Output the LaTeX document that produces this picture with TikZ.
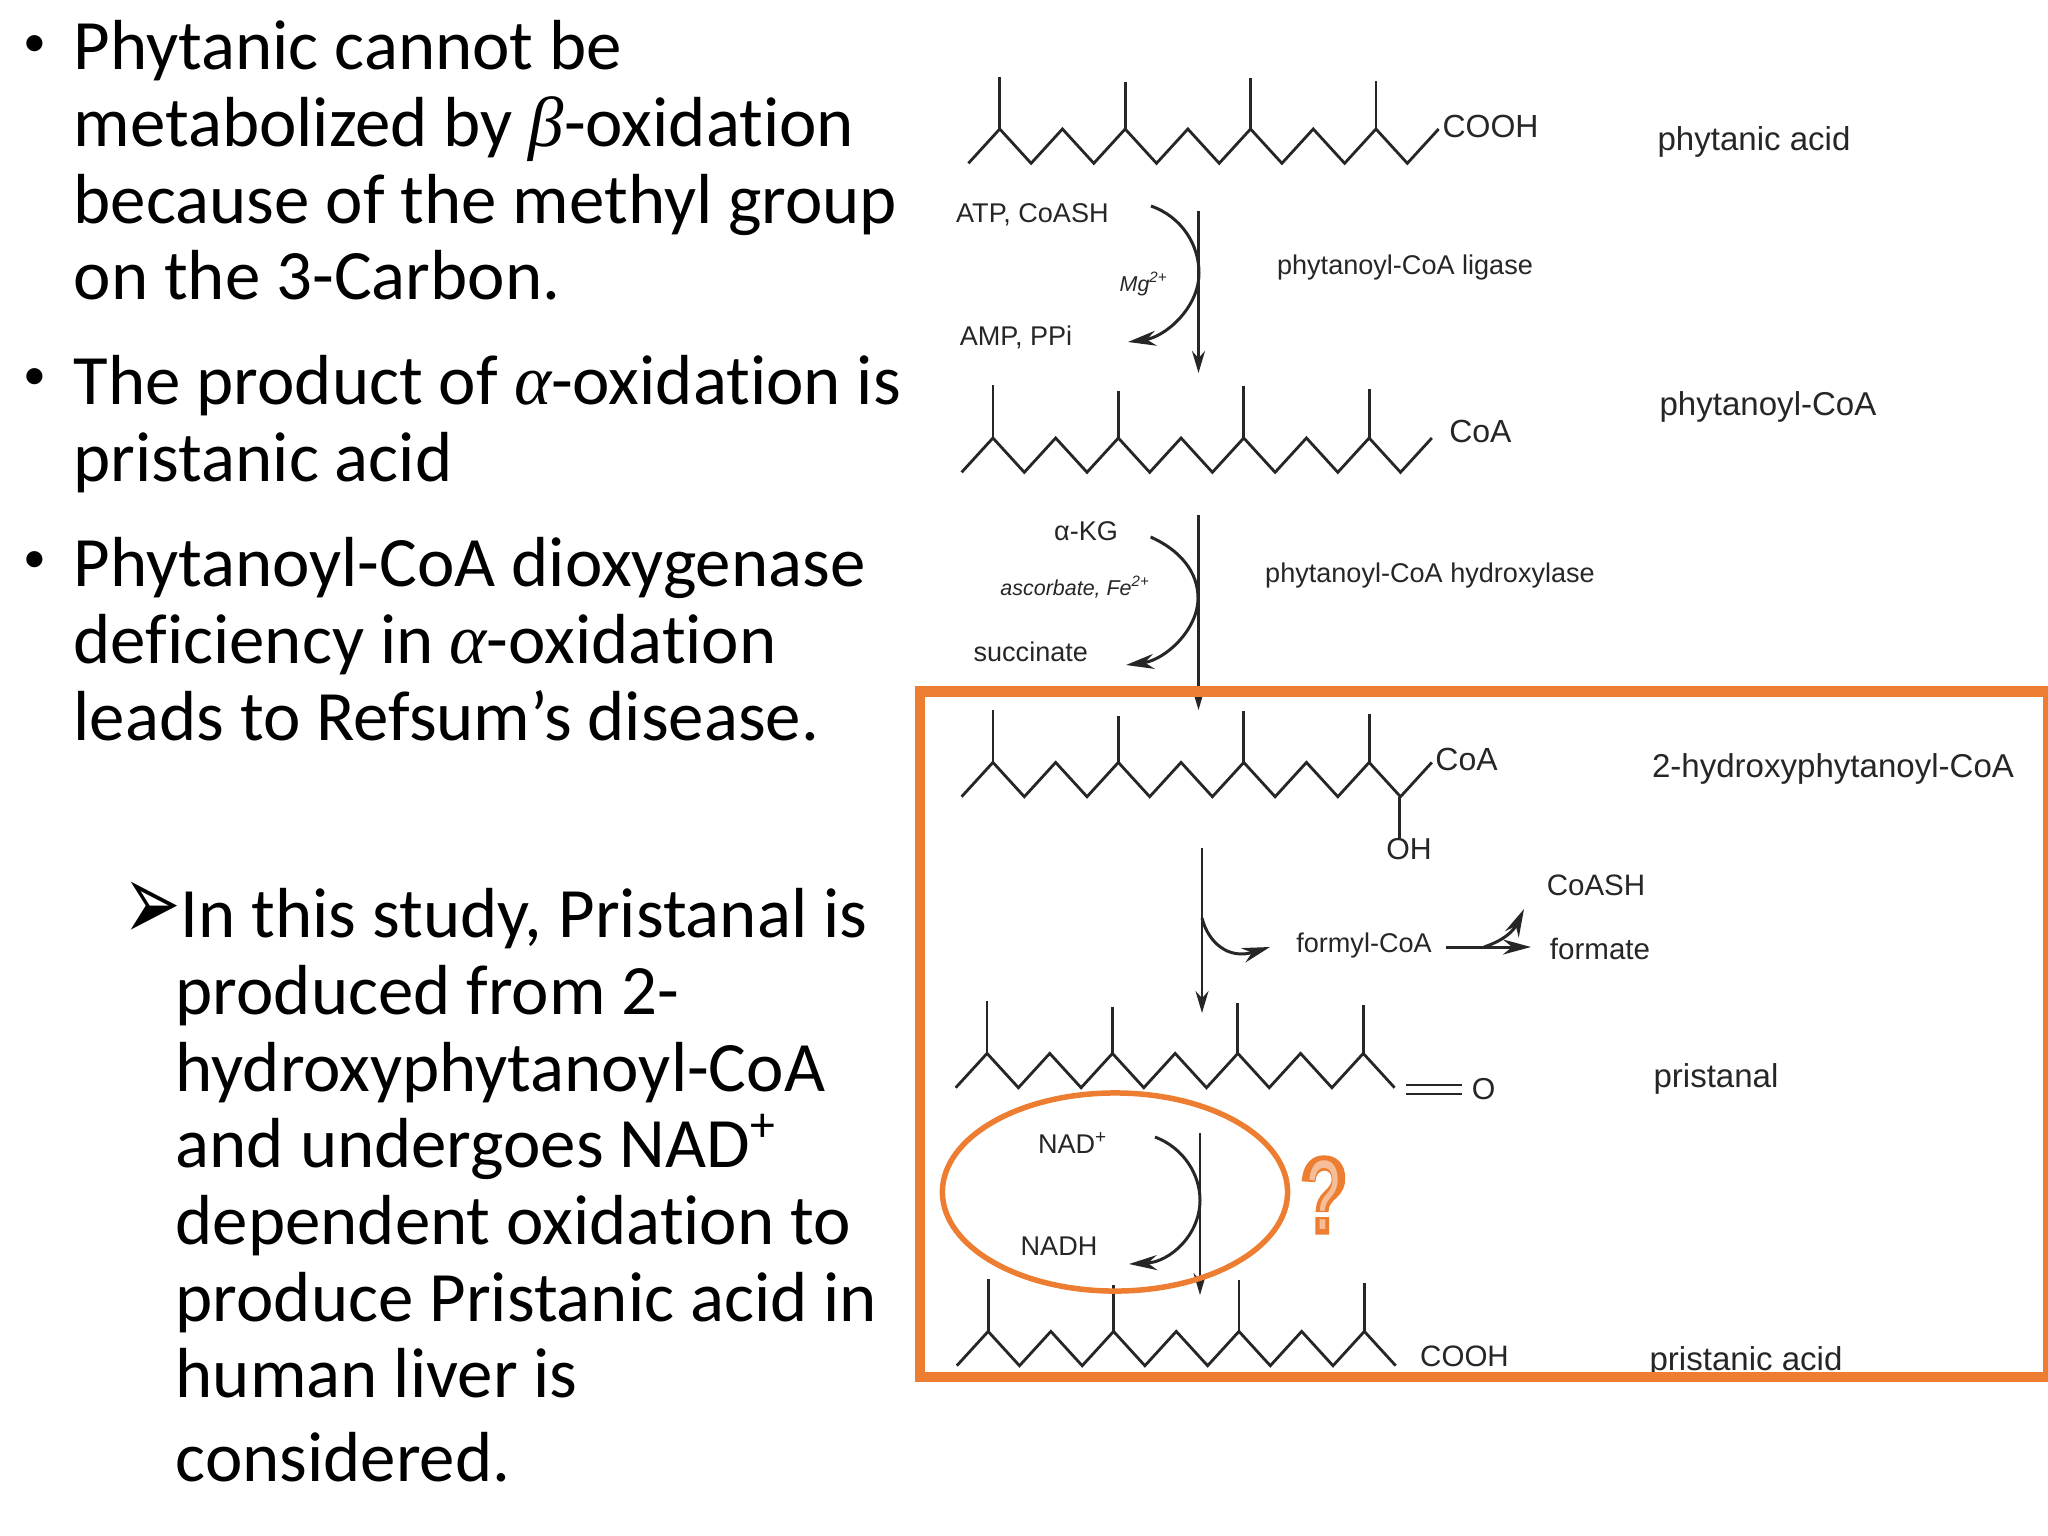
\documentclass[tikz,border=0pt]{standalone}
\usepackage{fontspec}
\setmainfont[Ligatures=NoCommon]{Carlito}
\setsansfont{Liberation Sans}
\newfontfamily\symbfont{DejaVu Sans}
\newfontfamily\greekfont{Liberation Serif}
\newfontfamily\quesfont[FakeBold=3]{Liberation Sans}
\newfontfamily\queslight{Liberation Sans}
\usetikzlibrary{arrows.meta,shapes.geometric}

% one zigzag chain with its four methyl branches
\newcommand{\chainbonds}[7]{%
  \draw[bond] (#1,#2) \foreach \k in {1,...,#3}{ -- ({#1+\k*31.35},{#2-34.3*mod(\k,2)}) };
  \foreach \m/\t in {1/#4,5/#5,9/#6,13/#7}{
    \draw[bond] ({#1+\m*31.35},{#2-34.3}) -- ({#1+\m*31.35},\t);
  }
}
\newcommand{\grk}[1]{{\greekfont\itshape #1}}

\begin{document}
\begin{tikzpicture}[
    x=0.01cm, y=-0.01cm,
    bond/.style={line width=0.8pt, line join=miter, color=black!85},
    rxnmain/.style={line width=0.65pt, color=black!85, -{Stealth[length=0.22cm,width=0.13cm]}},
    rxnside/.style={line width=0.85pt, color=black!85, -{Stealth[length=0.28cm,width=0.15cm]}},
    chem/.style={inner sep=0pt, font=\sffamily\fontsize{7.7}{9}\selectfont, color=black!85},
    chemname/.style={inner sep=0pt, font=\sffamily\fontsize{9.4}{11}\selectfont, color=black!85},
    atomtag/.style={inner sep=0pt, font=\sffamily\fontsize{9.1}{11}\selectfont, color=black!85},
    cofactor/.style={inner sep=0pt, font=\sffamily\itshape\fontsize{6.1}{8}\selectfont, color=black!85},
    bodytext/.style={anchor=north west, inner sep=0pt, align=left, font=\fontsize{20.15}{21.8}\selectfont},
    bulletmark/.style={inner sep=0pt, font=\fontsize{13}{14}\selectfont},
    highlight/.style={draw=hiorange, line width=0.105cm},
    ]
    \definecolor{hiorange}{HTML}{ED7D31}
    \definecolor{hilight}{HTML}{F6BE98}

    \useasboundingbox (0,0) rectangle (2048,1536);

    % left column
    \node[bulletmark] (bulleta) at (35,46) {•};
    \node[bodytext] (texta) at (73,20) {Phytanic cannot be\\metabolized by \grk{β}-oxidation\\because of the methyl group\\on the 3-Carbon.};
    \node[bulletmark] (bulletb) at (35,379) {•};
    \node[bodytext] (textb) at (73,355) {The product of \grk{α}-oxidation is\\pristanic acid};
    \node[bulletmark] (bulletc) at (35,562) {•};
    \node[bodytext] (textc) at (73,537) {Phytanoyl-CoA dioxygenase\\deficiency in \grk{α}-oxidation\\leads to Refsum’s disease.};
    \node[bulletmark, font=\symbfont\fontsize{19.5}{20}\selectfont, yscale=1.6, transform shape] (bulletd) at (152,911) {➢};
    \node[bodytext] (textd) at (175,888) {\hspace{0.05cm}In this study, Pristanal is\\produced from 2-\\hydroxyphytanoyl-CoA\\and undergoes NAD\textsuperscript{+}\\dependent oxidation to\\produce Pristanic acid in\\human liver is\\[0.07cm]considered.};

    % chains
    \chainbonds{968.4}{163.3}{15}{77}{82}{78}{81}
    \chainbonds{961.6}{472.3}{15}{385}{391}{386}{389}
    \chainbonds{961.6}{796.7}{15}{710}{716}{711}{714}
    \chainbonds{955.7}{1087.7}{14}{1001}{1007}{1003}{1005}
    \chainbonds{956.8}{1365.7}{14}{1279}{1285}{1280}{1283}

    \coordinate (ohtop) at (1399.8,796.7);
    \node[atomtag, font=\sffamily\fontsize{8.6}{10}\selectfont] (ohgroup) at (1409,849) {OH};
    \draw[bond] (ohtop) -- (ohgroup.north -| ohtop);
    \node[atomtag] (cooha) at (1490.5,126) {COOH};
    \node[atomtag] (coab) at (1480.4,431.7) {CoA};
    \node[atomtag] (coac) at (1466.6,759) {CoA};
    \node[atomtag, font=\sffamily\fontsize{8.6}{10}\selectfont] (oxygen) at (1483.5,1089) {O};
    \node[atomtag, font=\sffamily\fontsize{8.4}{10}\selectfont] (coohb) at (1464.5,1356) {COOH};
    \coordinate (dbla) at (1406,1085);
    \coordinate (dblb) at (1462,1085);
    \coordinate (dblc) at (1406,1094);
    \coordinate (dbld) at (1462,1094);
    \draw[bond] (dbla) -- (dblb);
    \draw[bond] (dblc) -- (dbld);

    % compound and enzyme names
    \node[chemname] (phyacid) at (1754,142) {phytanic acid};
    \node[chemname] (phycoa) at (1768,407) {phytanoyl-CoA};
    \node[chemname] (hydcoa) at (1833,769) {2-hydroxyphytanoyl-CoA};
    \node[chemname] (prisal) at (1716,1079) {pristanal};
    \node[chemname] (prisacid) at (1746,1362) {pristanic acid};
    \node[chem] (ligase) at (1405,267) {phytanoyl-CoA ligase};
    \node[chem] (hydroxylase) at (1430,575) {phytanoyl-CoA hydroxylase};

    % cofactors
    \node[chem] (atp) at (1032.4,215) {ATP, CoASH};
    \node[chem] (amp) at (1016,337) {AMP, PPi};
    \node[cofactor] (mg) at (1144,284) {Mg\textsuperscript{2+}};
    \node[chem] (akg) at (1086,531) {α-KG};
    \node[cofactor] (asc) at (1075.5,587) {ascorbate, Fe\textsuperscript{2+}};
    \node[chem] (succ) at (1030.8,652) {succinate};
    \node[chem] (formyl) at (1364,945) {formyl-CoA};
    \node[chem, font=\sffamily\fontsize{8.4}{10}\selectfont] (coash) at (1596,885) {CoASH};
    \node[chem, font=\sffamily\fontsize{8.4}{10}\selectfont] (formate) at (1600,949) {formate};
    \node[chem] (nad) at (1073,1143) {NAD\textsuperscript{+}};
    \node[chem] (nadh) at (1059,1246) {NADH};

    % reaction arrows
    \coordinate (rxna) at (1198.5,211);
    \coordinate (rxnb) at (1198.5,373);
    \draw[rxnmain] (rxna) -- (rxnb);
    \coordinate (sidea) at (1151,206);
    \coordinate (sideb) at (1199,273);
    \coordinate (sidec) at (1128,342);
    \draw[rxnside] (sidea) .. controls (1182,217) and (1199,245) .. (sideb) .. controls (1199,308) and (1165,337) .. (sidec);

    \coordinate (rxnc) at (1198.5,515);
    \coordinate (rxnd) at (1198.5,710);
    \draw[rxnmain] (rxnc) -- (rxnd);
    \coordinate (sided) at (1150.6,537);
    \coordinate (sidee) at (1198,598);
    \coordinate (sidef) at (1126,665);
    \draw[rxnside] (sided) .. controls (1180,550) and (1198,572) .. (sidee) .. controls (1198,630) and (1165,660) .. (sidef);

    \coordinate (rxne) at (1202,848);
    \coordinate (rxnf) at (1202,1013);
    \coordinate (rxng) at (1202,918);
    \coordinate (rxnh) at (1270,947);
    \draw[rxnmain] (rxne) -- (rxnf);
    \draw[rxnside] (rxng) .. controls (1208,942) and (1228,960) .. (rxnh);

    \coordinate (forma) at (1446,947);
    \coordinate (formb) at (1531,947);
    \coordinate (formc) at (1484,947);
    \coordinate (formd) at (1524,909);
    \draw[rxnside] (forma) -- (formb);
    \draw[rxnside] (formc) .. controls (1505,940) and (1514,930) .. (formd);

    \coordinate (rxni) at (1200,1133);
    \coordinate (rxnj) at (1200,1295);
    \draw[rxnmain] (rxni) -- (rxnj);
    \coordinate (sideg) at (1155,1137);
    \coordinate (sideh) at (1200,1200);
    \coordinate (sidei) at (1129,1264);
    \draw[rxnside] (sideg) .. controls (1184,1148) and (1200,1175) .. (sideh) .. controls (1200,1235) and (1170,1262) .. (sidei);

    % orange marks
    \draw[highlight] (920,691.5) rectangle (2048,1377);
    \node[draw=hiorange, line width=0.055cm, ellipse, minimum width=3.45cm, minimum height=1.98cm, inner sep=0pt] (circlenad) at (1115,1192) {};
    \node[inner sep=0pt, color=hiorange, font=\quesfont\bfseries\fontsize{31}{31}\selectfont, xscale=0.74, transform shape] (quesa) at (1324,1195) {?};
    \node[inner sep=0pt, color=hilight, font=\queslight\fontsize{28}{28}\selectfont, xscale=0.6, transform shape] (quesb) at (1324,1195) {?};
\end{tikzpicture}
\end{document}
